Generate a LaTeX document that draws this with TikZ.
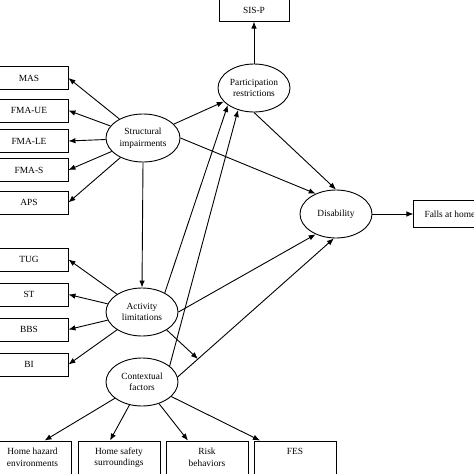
\documentclass[tikz,border=0pt]{standalone}
\usepackage{fontspec}
\setmainfont{Liberation Serif}
\usetikzlibrary{arrows.meta, positioning, shapes.geometric}
\tikzset{
	latent/.style = {shape=ellipse, draw, align=center, inner sep=0pt,
		minimum width=72pt, minimum height=48pt},
	indic/.style  = {shape=rectangle, draw, align=center, inner sep=1pt,
		minimum width=78pt, minimum height=23pt},
	ctxbox/.style = {indic, minimum width=82pt, minimum height=33pt}
}
\begin{document}
\begin{tikzpicture}
	[
	x                  = 1pt,
	y                  = -1pt,
	line width         = 0.9pt,
	>                  = {Latex[length=7pt, width=5.5pt]},
	every node/.style  = {font=\fontsize{9.4}{11.5}\selectfont}
	]
	\useasboundingbox (0,0) rectangle (474,474);
	% latent variables
	\node [latent] (part) at (254,88) {Participation\\restrictions};
	\node [latent, minimum width=74pt] (struct) at (143,138) {Structural\\impairments};
	\node [latent] (dis) at (336,214) {Disability};
	\node [latent] (act) at (142,312) {Activity\\limitations};
	\node [latent] (ctx) at (142,382) {Contextual\\factors};
	% measures
	\node [indic, minimum width=70pt, minimum height=22pt] (sisp) [above=42pt of part] {SIS-P};
	\node [indic, minimum width=72pt, minimum height=27pt] (falls) [right=41pt of dis] {Falls at home};
	\node [indic] (mas) at (29,78) {MAS};
	\node [indic] (fmaue) at (29,110.5) {FMA-UE};
	\node [indic] (fmale) at (29,141) {FMA-LE};
	\node [indic] (fmas) at (29,170) {FMA-S};
	\node [indic] (aps) at (29,202.5) {APS};
	\node [indic] (tug) at (29,259.5) {TUG};
	\node [indic] (st) at (29,294.5) {ST};
	\node [indic] (bbs) at (29,329.5) {BBS};
	\node [indic] (bi) at (29,364.5) {BI};
	\node [ctxbox, minimum width=77pt] (hazard) at (32.5,457.5) {Home hazard\\environments};
	\node [ctxbox] (safety) at (119,457.5) {Home safety\\surroundings};
	\node [ctxbox] (risk) at (207,457.5) {Risk\\behaviors};
	\node [ctxbox] (fes) at (295,457.5) {FES\\\mbox{}};
	% paths
	\draw [->] (struct) -- (mas.east);
	\draw [->] (struct) -- (fmaue.east);
	\draw [->] (struct) -- (fmale.east);
	\draw [->] (struct) -- (fmas.east);
	\draw [->] (struct) -- (aps.east);
	\draw [->] (struct) -- (part);
	\draw [->] (struct.east) -- (dis.135);
	\draw [->] (struct.south) -- (act.north);
	\draw [->] (part.south) -- (dis.north);
	\draw [->] (part) -- (sisp);
	\draw [->] (dis) -- (falls);
	\draw [->] (act.40) -- (part.213);
	\draw [->] (ctx.30) -- (part.234);
	\draw [->] (act.east) -- (dis.225);
	\draw [->] (ctx.8) -- (dis.265) coordinate [pos=0.13] (mod);
	\draw [->] (act.-36) -- (mod);
	\draw [->] (act) -- (tug.east);
	\draw [->] (act) -- (st.east);
	\draw [->] (act) -- (bbs.east);
	\draw [->] (act) -- (bi.east);
	\draw [->] (ctx) -- ([xshift=12pt]hazard.north);
	\draw [->] (ctx) -- ([xshift=-9pt]safety.north);
	\draw [->] (ctx) -- ([xshift=-19pt]risk.north);
	\draw [->] (ctx) -- ([xshift=-35pt]fes.north);
\end{tikzpicture}
\end{document}
